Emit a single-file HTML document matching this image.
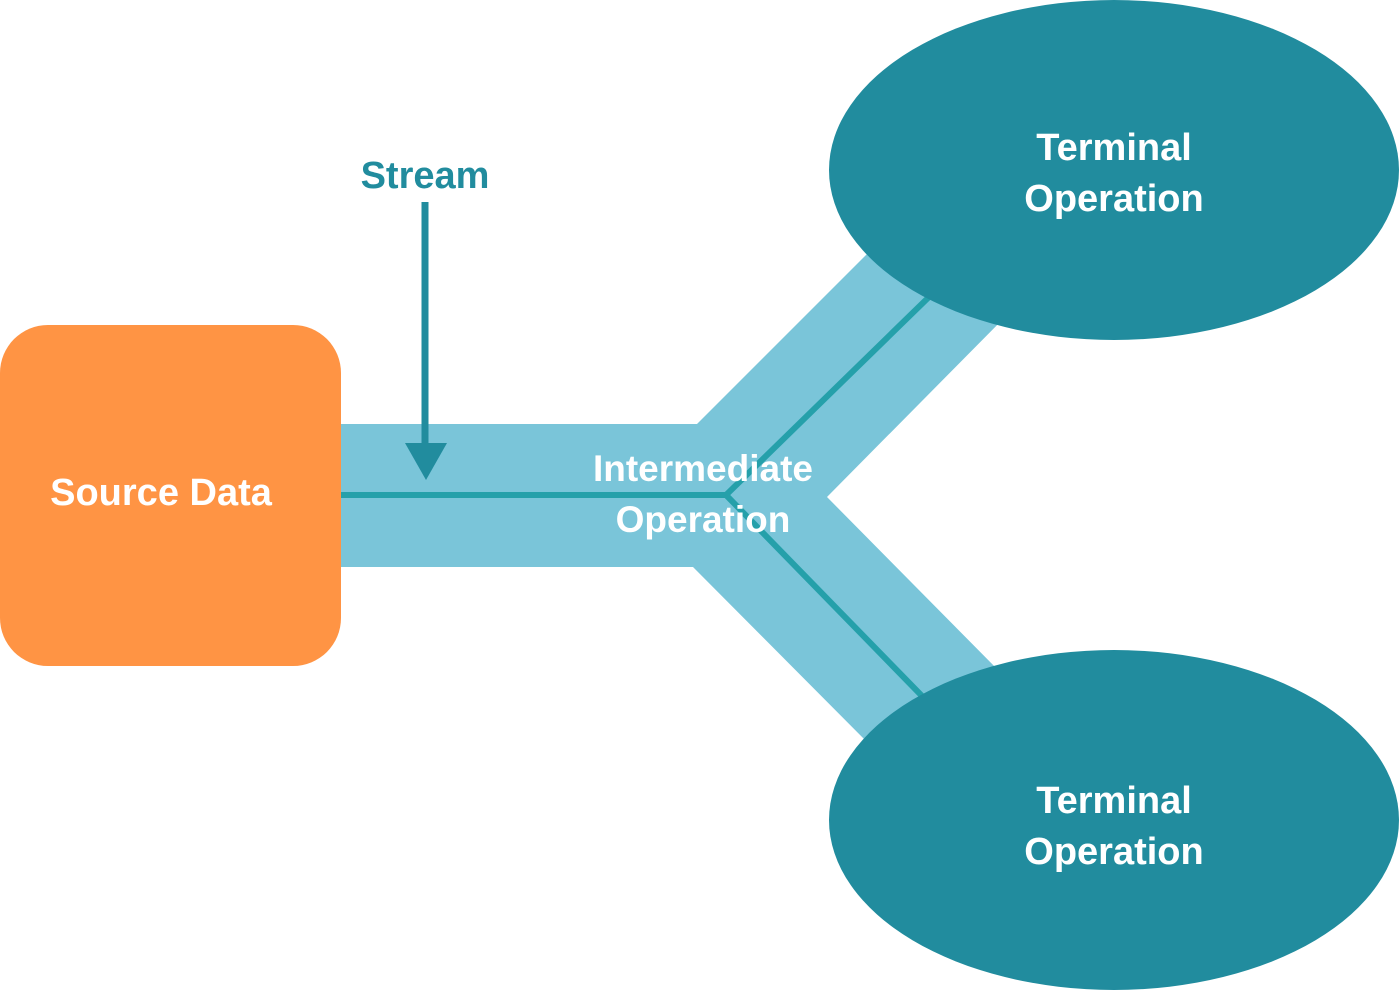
<!DOCTYPE html>
<html><head><meta charset="utf-8"><style>
html,body{margin:0;padding:0;background:#fff;width:1400px;height:990px;overflow:hidden}
</style></head><body>
<svg width="1400" height="990" viewBox="0 0 1400 990" xmlns="http://www.w3.org/2000/svg">
<polygon points="330,424 697,424 880,241 1010,312 827,497 1000,672 870,745 693,567 330,567" fill="#7AC5D9"/>
<polyline points="341,495 726,495 930,296" fill="none" stroke="#25A0AA" stroke-width="6"/>
<line x1="726" y1="495" x2="922" y2="696" stroke="#25A0AA" stroke-width="6"/>
<rect x="0" y="325" width="341" height="341" rx="48" fill="#FF9444"/>
<ellipse cx="1114" cy="170" rx="285" ry="170" fill="#218C9E"/>
<ellipse cx="1114" cy="820" rx="285" ry="170" fill="#218C9E"/>
<line x1="425" y1="202" x2="425" y2="448" stroke="#218C9E" stroke-width="7"/>
<polygon points="405,443 447,443 426,480" fill="#218C9E"/>
<g font-family="Liberation Sans, sans-serif" font-weight="bold" text-anchor="middle">
<text x="425" y="188" font-size="38" fill="#218C9E">Stream</text>
<text x="161" y="505" font-size="38" fill="#fff">Source Data</text>
<text x="703" y="481" font-size="37" fill="#fff">Intermediate</text>
<text x="703" y="532" font-size="37" fill="#fff">Operation</text>
<text x="1114" y="160" font-size="38" fill="#fff">Terminal</text>
<text x="1114" y="211" font-size="38" fill="#fff">Operation</text>
<text x="1114" y="813" font-size="38" fill="#fff">Terminal</text>
<text x="1114" y="864" font-size="38" fill="#fff">Operation</text>
</g>
</svg>
</body></html>
